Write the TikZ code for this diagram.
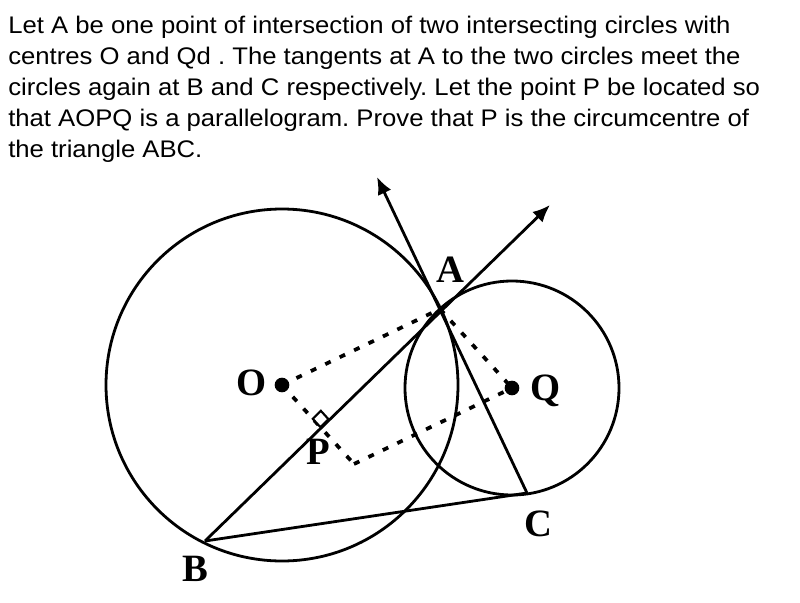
\documentclass[tikz,border=0pt]{standalone}
\usepackage{fontspec}
\setmainfont[FakeStretch=1.07]{Liberation Sans}
\newfontfamily\lblfont{Liberation Serif}
\usetikzlibrary{arrows.meta,calc}
\begin{document}
\frenchspacing
\begin{tikzpicture}[x=0.75pt,y=-0.75pt,
  txt/.style={anchor=base west,inner sep=0pt,font=\fontsize{18pt}{23pt}\selectfont},
  lbl/.style={inner sep=0pt,font=\lblfont\bfseries\fontsize{29pt}{31pt}\selectfont},
  geo/.style={line width=2.1pt},
  dotline/.style={line width=2.8pt,dash pattern=on 4.5pt off 7.5pt},
  arr/.style={geo,-{Latex[length=13pt,width=11pt]}},
  ctr/.style={circle,fill=black,inner sep=0pt,minimum size=11pt}]
\useasboundingbox[fill=white] (0,0) rectangle (800,603);
% problem text
\node[txt] (t1) at (8,33) {Let A be one point of intersection of two intersecting circles with};
\node[txt] (t2) at (8,64) {centres O and Qd . The tangents at A to the two circles meet the};
\node[txt] (t3) at (8,95) {circles again at B and C respectively. Let the point P be located so};
\node[txt] (t4) at (8,126) {that AOPQ is a parallelogram. Prove that P is the circumcentre of};
\node[txt] (t5) at (8,157) {the triangle ABC.};
% points
\coordinate (O) at (282,385);
\coordinate (Q) at (512,388);
\coordinate (A) at (440,309);
\coordinate (B) at (205,541);
\coordinate (C) at (527,493);
\coordinate (P) at ($(O)+(Q)-(A)$);
\coordinate (T1) at (377,177);
\coordinate (T2) at (550,205);
% circles
\draw[geo] (O) circle[radius=176];
\draw[geo] (Q) circle[radius=107];
% lines
\draw[geo] (B) -- (C);
\draw[arr] (B) -- (T2);
\draw[arr] (C) -- (T1);
% dotted parallelogram
\draw[dotline] (O) -- (A);
\draw[dotline] (A) -- (Q);
\draw[dotline] (O) -- (P);
\draw[dotline] (P) -- (Q);
% right angle mark
\coordinate (F) at (intersection of O--P and B--A);
\coordinate (F1) at ($(F)!8.5pt!(A)$);
\coordinate (F2) at ($(F)!8.5pt!(O)$);
\filldraw[fill=white,line width=1.6pt] (F) -- (F1) -- ($(F1)+(F2)-(F)$) -- (F2) -- cycle;
% centre dots
\node[ctr] (Od) at (O) {};
\node[ctr] (Qd) at (Q) {};
% labels
\node[lbl] (lA) at (450,270) {A};
\node[lbl] (lO) at (252,383) {O};
\node[lbl] (lQ) at (546,391) {Q};
\node[lbl] (lP) at (318,452) {P};
\node[lbl] (lB) at (195,569) {B};
\node[lbl] (lC) at (538,524) {C};
\end{tikzpicture}
\end{document}
